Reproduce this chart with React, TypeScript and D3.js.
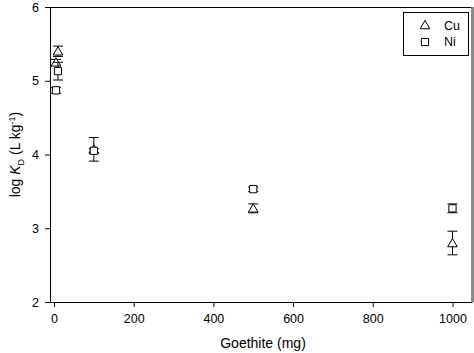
import { useEffect, useRef } from "react";
import * as d3 from "d3";

// data
const goethite = [5, 10, 100, 500, 1000];
const cuValues = [5.25, 5.4, 4.07, 3.27, 2.8];
const cuErrors = [0.04, 0.07, 0.16, 0.06, 0.16];
const niValues = [4.87, 5.13, 4.05, 3.53, 3.27];
const niErrors = [0.04, 0.12, 0.03, 0.03, 0.06];
const xTicks = [0, 200, 400, 600, 800, 1000];
const yTicks = [2, 3, 4, 5, 6];

const W = 474;
const H = 353;
const FONT = "'Liberation Sans', Arial, sans-serif";

const App = () => {
  const ref = useRef<SVGSVGElement | null>(null);

  useEffect(() => {
    if (!ref.current) return;
    const svg = d3.select(ref.current);
    svg.selectAll("*").remove();

    const left = 50;
    const right = 472;
    const top = 7;
    const bottom = 302;

    const x = d3.scaleLinear().domain([-10, 1049]).range([left, right]);
    const y = d3.scaleLinear().domain([2, 6]).range([bottom, top]);

    // frame
    svg.append("line")
      .attr("x1", left).attr("x2", right)
      .attr("y1", top + 0.5).attr("y2", top + 0.5)
      .attr("stroke", "#000").attr("stroke-width", 1);
    svg.append("line")
      .attr("x1", right + 0.5).attr("x2", right + 0.5)
      .attr("y1", top).attr("y2", bottom)
      .attr("stroke", "#8a8a8a").attr("stroke-width", 3);

    // axes
    const xAxis = svg.append("g")
      .attr("transform", `translate(0,${bottom})`)
      .call(d3.axisBottom(x).tickValues(xTicks).tickFormat(d3.format("d")).tickSize(5).tickSizeOuter(0).tickPadding(7));
    xAxis.select(".domain").attr("stroke", "#000");
    xAxis.selectAll("text").style("font-family", FONT).style("font-size", "12.5px").attr("fill", "#000");

    const yAxis = svg.append("g")
      .attr("transform", `translate(${left},0)`)
      .call(d3.axisLeft(y).tickValues(yTicks).tickFormat(d3.format("d")).tickSize(5).tickSizeOuter(0).tickPadding(6));
    yAxis.selectAll("text").style("font-family", FONT).style("font-size", "12.5px").attr("fill", "#000");

    // axis titles
    svg.append("text")
      .attr("x", (left + right) / 2 + 2)
      .attr("y", 348)
      .attr("text-anchor", "middle")
      .style("font-family", FONT)
      .style("font-size", "14px")
      .text("Goethite (mg)");

    const yl = svg.append("text")
      .attr("transform", `translate(20,${(top + bottom) / 2}) rotate(-90)`)
      .attr("text-anchor", "middle")
      .style("font-family", FONT)
      .style("font-size", "14px");
    yl.append("tspan").text("log ");
    yl.append("tspan").style("font-style", "italic").text("K");
    yl.append("tspan").attr("dy", 4).style("font-size", "9px").text("D");
    yl.append("tspan").attr("dy", -4).text(" (L kg");
    yl.append("tspan").attr("dy", -5).style("font-size", "9px").text("-1");
    yl.append("tspan").attr("dy", 5).text(")");

    const tri = d3.symbol().type(d3.symbolTriangle).size(40);
    const sq = d3.symbol().type(d3.symbolSquare).size(52);

    const drawSeries = (vals: number[], errs: number[], path: string | null, dy: number) => {
      const g = svg.append("g");
      vals.forEach((v, i) => {
        const cx = x(goethite[i]);
        const y1 = y(v + errs[i]);
        const y2 = y(v - errs[i]);
        g.append("line").attr("x1", cx).attr("x2", cx).attr("y1", y1).attr("y2", y2)
          .attr("stroke", "#000").attr("stroke-width", 1);
        [y1, y2].forEach((yy) => {
          g.append("line").attr("x1", cx - 5).attr("x2", cx + 5).attr("y1", yy).attr("y2", yy)
            .attr("stroke", "#000").attr("stroke-width", 1);
        });
        g.append("path")
          .attr("d", path)
          .attr("transform", `translate(${cx},${y(v) + dy})`)
          .attr("fill", "#fff")
          .attr("stroke", "#000")
          .attr("stroke-width", 1);
      });
    };

    drawSeries(cuValues, cuErrors, tri(), 1);
    drawSeries(niValues, niErrors, sq(), 0);

    // legend
    const lg = svg.append("g");
    lg.append("rect")
      .attr("x", 403.5).attr("y", 12.5).attr("width", 65).attr("height", 43)
      .attr("fill", "#fff").attr("stroke", "#000").attr("stroke-width", 1);
    lg.append("path").attr("d", tri()).attr("transform", "translate(425,26)")
      .attr("fill", "#fff").attr("stroke", "#000");
    lg.append("path").attr("d", sq()).attr("transform", "translate(425,42)")
      .attr("fill", "#fff").attr("stroke", "#000");
    lg.append("text").attr("x", 444).attr("y", 30)
      .style("font-family", FONT).style("font-size", "12.5px").text("Cu");
    lg.append("text").attr("x", 444).attr("y", 46)
      .style("font-family", FONT).style("font-size", "12.5px").text("Ni");
  }, []);

  return (
    <svg
      ref={ref}
      width={W}
      height={H}
      style={{ position: "absolute", left: 0, top: 0, background: "#fff" }}
    />
  );
};

export default App;
